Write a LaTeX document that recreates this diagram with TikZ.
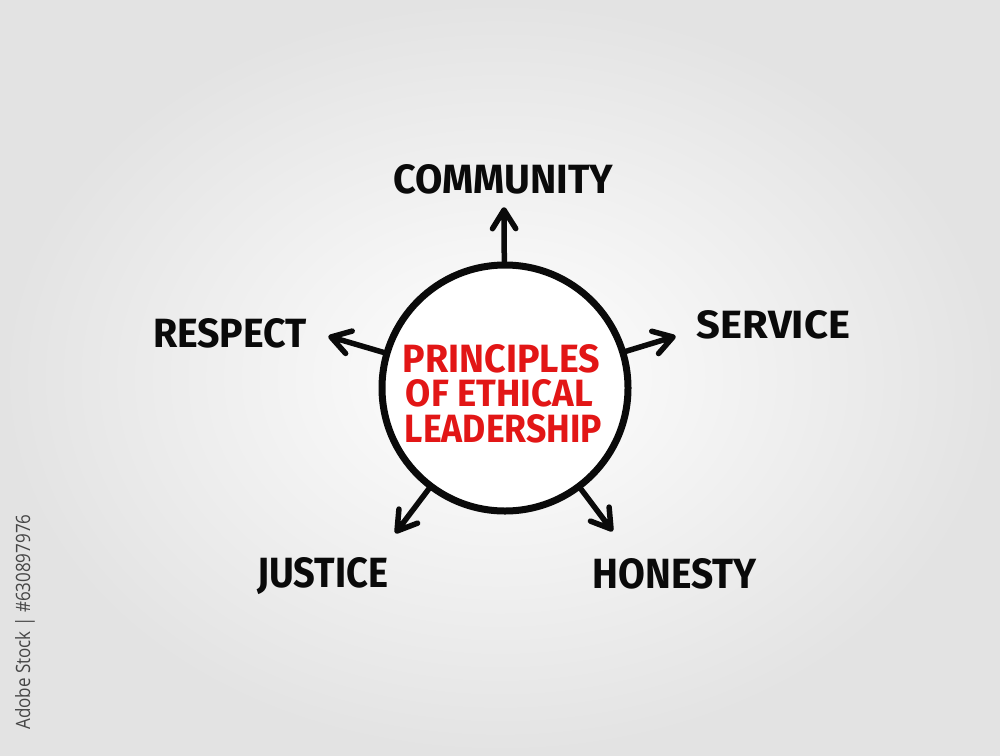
\documentclass[tikz,border=0pt]{standalone}
\usepackage{fontspec}
\setmainfont{Fira Sans}
\newfontfamily\wmfont{Open Sans}
\usetikzlibrary{calc}
\definecolor{inkred}{RGB}{226,22,22}
\definecolor{ink}{RGB}{10,10,10}
\definecolor{wmgray}{RGB}{70,70,70}
\tikzset{
  lbl/.style={inner sep=0pt, text=ink, font=\bfseries},
  ctr/.style={inner sep=0pt, text=inkred, font=\bfseries},
  spoke/.style={draw=ink, line width=5.5pt, line cap=round, line join=round},
  ring/.style={draw=ink, line width=7pt, fill=white}
}
\newcommand{\fitbox}[3]{\resizebox{#1pt}{#2pt}{#3}}
\newcommand{\spokeTo}[1]{%
  \draw[spoke] (hub) -- (#1)
    ($(#1)!22pt!32:(hub.center)$) -- (#1) -- ($(#1)!22pt!-32:(hub.center)$);}
\begin{document}
\begin{tikzpicture}[x=1pt,y=-1pt]
\useasboundingbox (0,0) rectangle (1000,755);
\shade[inner color=white, outer color=black!11] (0,0) rectangle (1000,755);
% watermark id
\node[inner sep=0pt, rotate=90, text=wmgray] (wm) at (25,622) {\wmfont\fitbox{215}{15}{Adobe Stock | \#630897976}};
% centre circle
\node[ring, circle, minimum size=246pt, inner sep=0pt] (hub) at (505,388) {};
\node[ctr] (t1) at (501.5,359) {\fitbox{197}{28}{PRINCIPLES}};
\node[ctr] (t2) at (499.5,393.5) {\fitbox{187}{27}{OF ETHICAL}};
\node[ctr] (t3) at (503.5,429) {\fitbox{197}{28}{LEADERSHIP}};
% labels
\node[lbl] (community) at (503,179) {\fitbox{220}{29}{COMMUNITY}};
\node[lbl] (respect) at (230,333) {\fitbox{154}{29}{RESPECT}};
\node[lbl] (service) at (773.5,324.5) {\fitbox{153}{28}{SERVICE}};
\node[lbl] (justice) at (322.5,576) {\fitbox{131}{30}{JUSTICE}};
\node[lbl] (honesty) at (675,574) {\fitbox{164}{30}{HONESTY}};
% arrow tips
\coordinate (aTop) at (504,210);
\coordinate (aLeft) at (331,337);
\coordinate (aRight) at (673,337);
\coordinate (aBL) at (397,531);
\coordinate (aBR) at (611,529);
\spokeTo{aTop}
\spokeTo{aLeft}
\spokeTo{aRight}
\spokeTo{aBL}
\spokeTo{aBR}
\end{tikzpicture}
\end{document}
